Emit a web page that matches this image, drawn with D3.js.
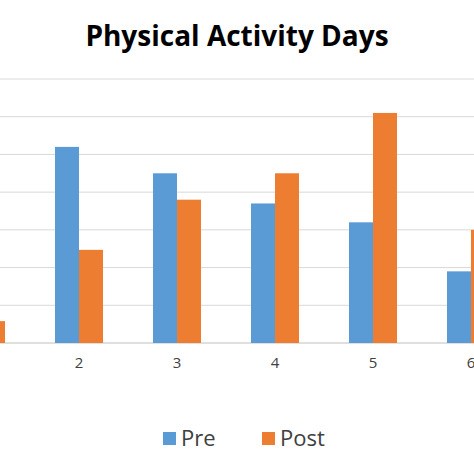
<!DOCTYPE html>
<html><head><meta charset="utf-8">
<script src="https://cdn.jsdelivr.net/npm/d3@7"></script>
<style>body{margin:0;background:#fff}</style></head>
<body><svg id="c" width="474" height="474"></svg>
<script>
const categories = ["1","2","3","4","5","6"];
const series = ["Pre","Post"];
const preValues = [4.0, 5.2, 4.5, 3.7, 3.2, 1.9];
const postValues = [0.58, 2.47, 3.8, 4.5, 6.1, 3.0];
const yTicks = [0,1,2,3,4,5,6,7];
const colors = ["#5b9bd5","#ed7d31"];

const svg = d3.select("#c");
const y = d3.scaleLinear().domain([0,7]).range([343,79]);
const x = d3.scaleBand().domain(categories).range([-68, -68+98*categories.length]);
const xs = d3.scaleBand().domain(series).range([x.bandwidth()/2-24, x.bandwidth()/2+24]);

svg.append("g").selectAll("line").data(yTicks).join("line")
  .attr("x1",0).attr("x2",474).attr("y1",d=>y(d)).attr("y2",d=>y(d))
  .attr("stroke",d=>d===0?"#bfbfbf":"#d9d9d9").attr("stroke-width",1);

const data = categories.map((c,i)=>({c, vals:[preValues[i], postValues[i]]}));
const g = svg.append("g").selectAll("g").data(data).join("g")
  .attr("transform",d=>`translate(${x(d.c)},0)`);
g.selectAll("rect").data(d=>d.vals.map((v,j)=>({s:series[j],v,j}))).join("rect")
  .attr("x",d=>xs(d.s)).attr("width",xs.bandwidth())
  .attr("y",d=>y(d.v)).attr("height",d=>y(0)-y(d.v)).attr("fill",d=>colors[d.j]);

svg.append("g").attr("transform","translate(0,343)")
  .call(d3.axisBottom(x).tickSize(0).tickPadding(14).tickValues(categories.filter(c=>x(c)+x.bandwidth()/2>0)))
  .call(a=>a.select(".domain").remove())
  .selectAll("text").attr("font-family","Open Sans, sans-serif").attr("font-size",15).attr("fill","#404040");

svg.append("text").attr("x",237).attr("y",46).attr("text-anchor","middle")
  .attr("font-family","Open Sans, sans-serif").attr("font-weight","bold").attr("font-size",28).attr("fill","#000")
  .text("Physical Activity Days");

const legX = [163, 262];
const lg = svg.append("g").selectAll("g").data(series).join("g")
  .attr("transform",(d,i)=>`translate(${legX[i]},432)`);
lg.append("rect").attr("width",13).attr("height",13).attr("fill",(d,i)=>colors[i]);
lg.append("text").attr("x",18).attr("y",14).attr("font-family","Open Sans, sans-serif")
  .attr("font-size",22).attr("fill","#404040").text(d=>d);
</script></body></html>
